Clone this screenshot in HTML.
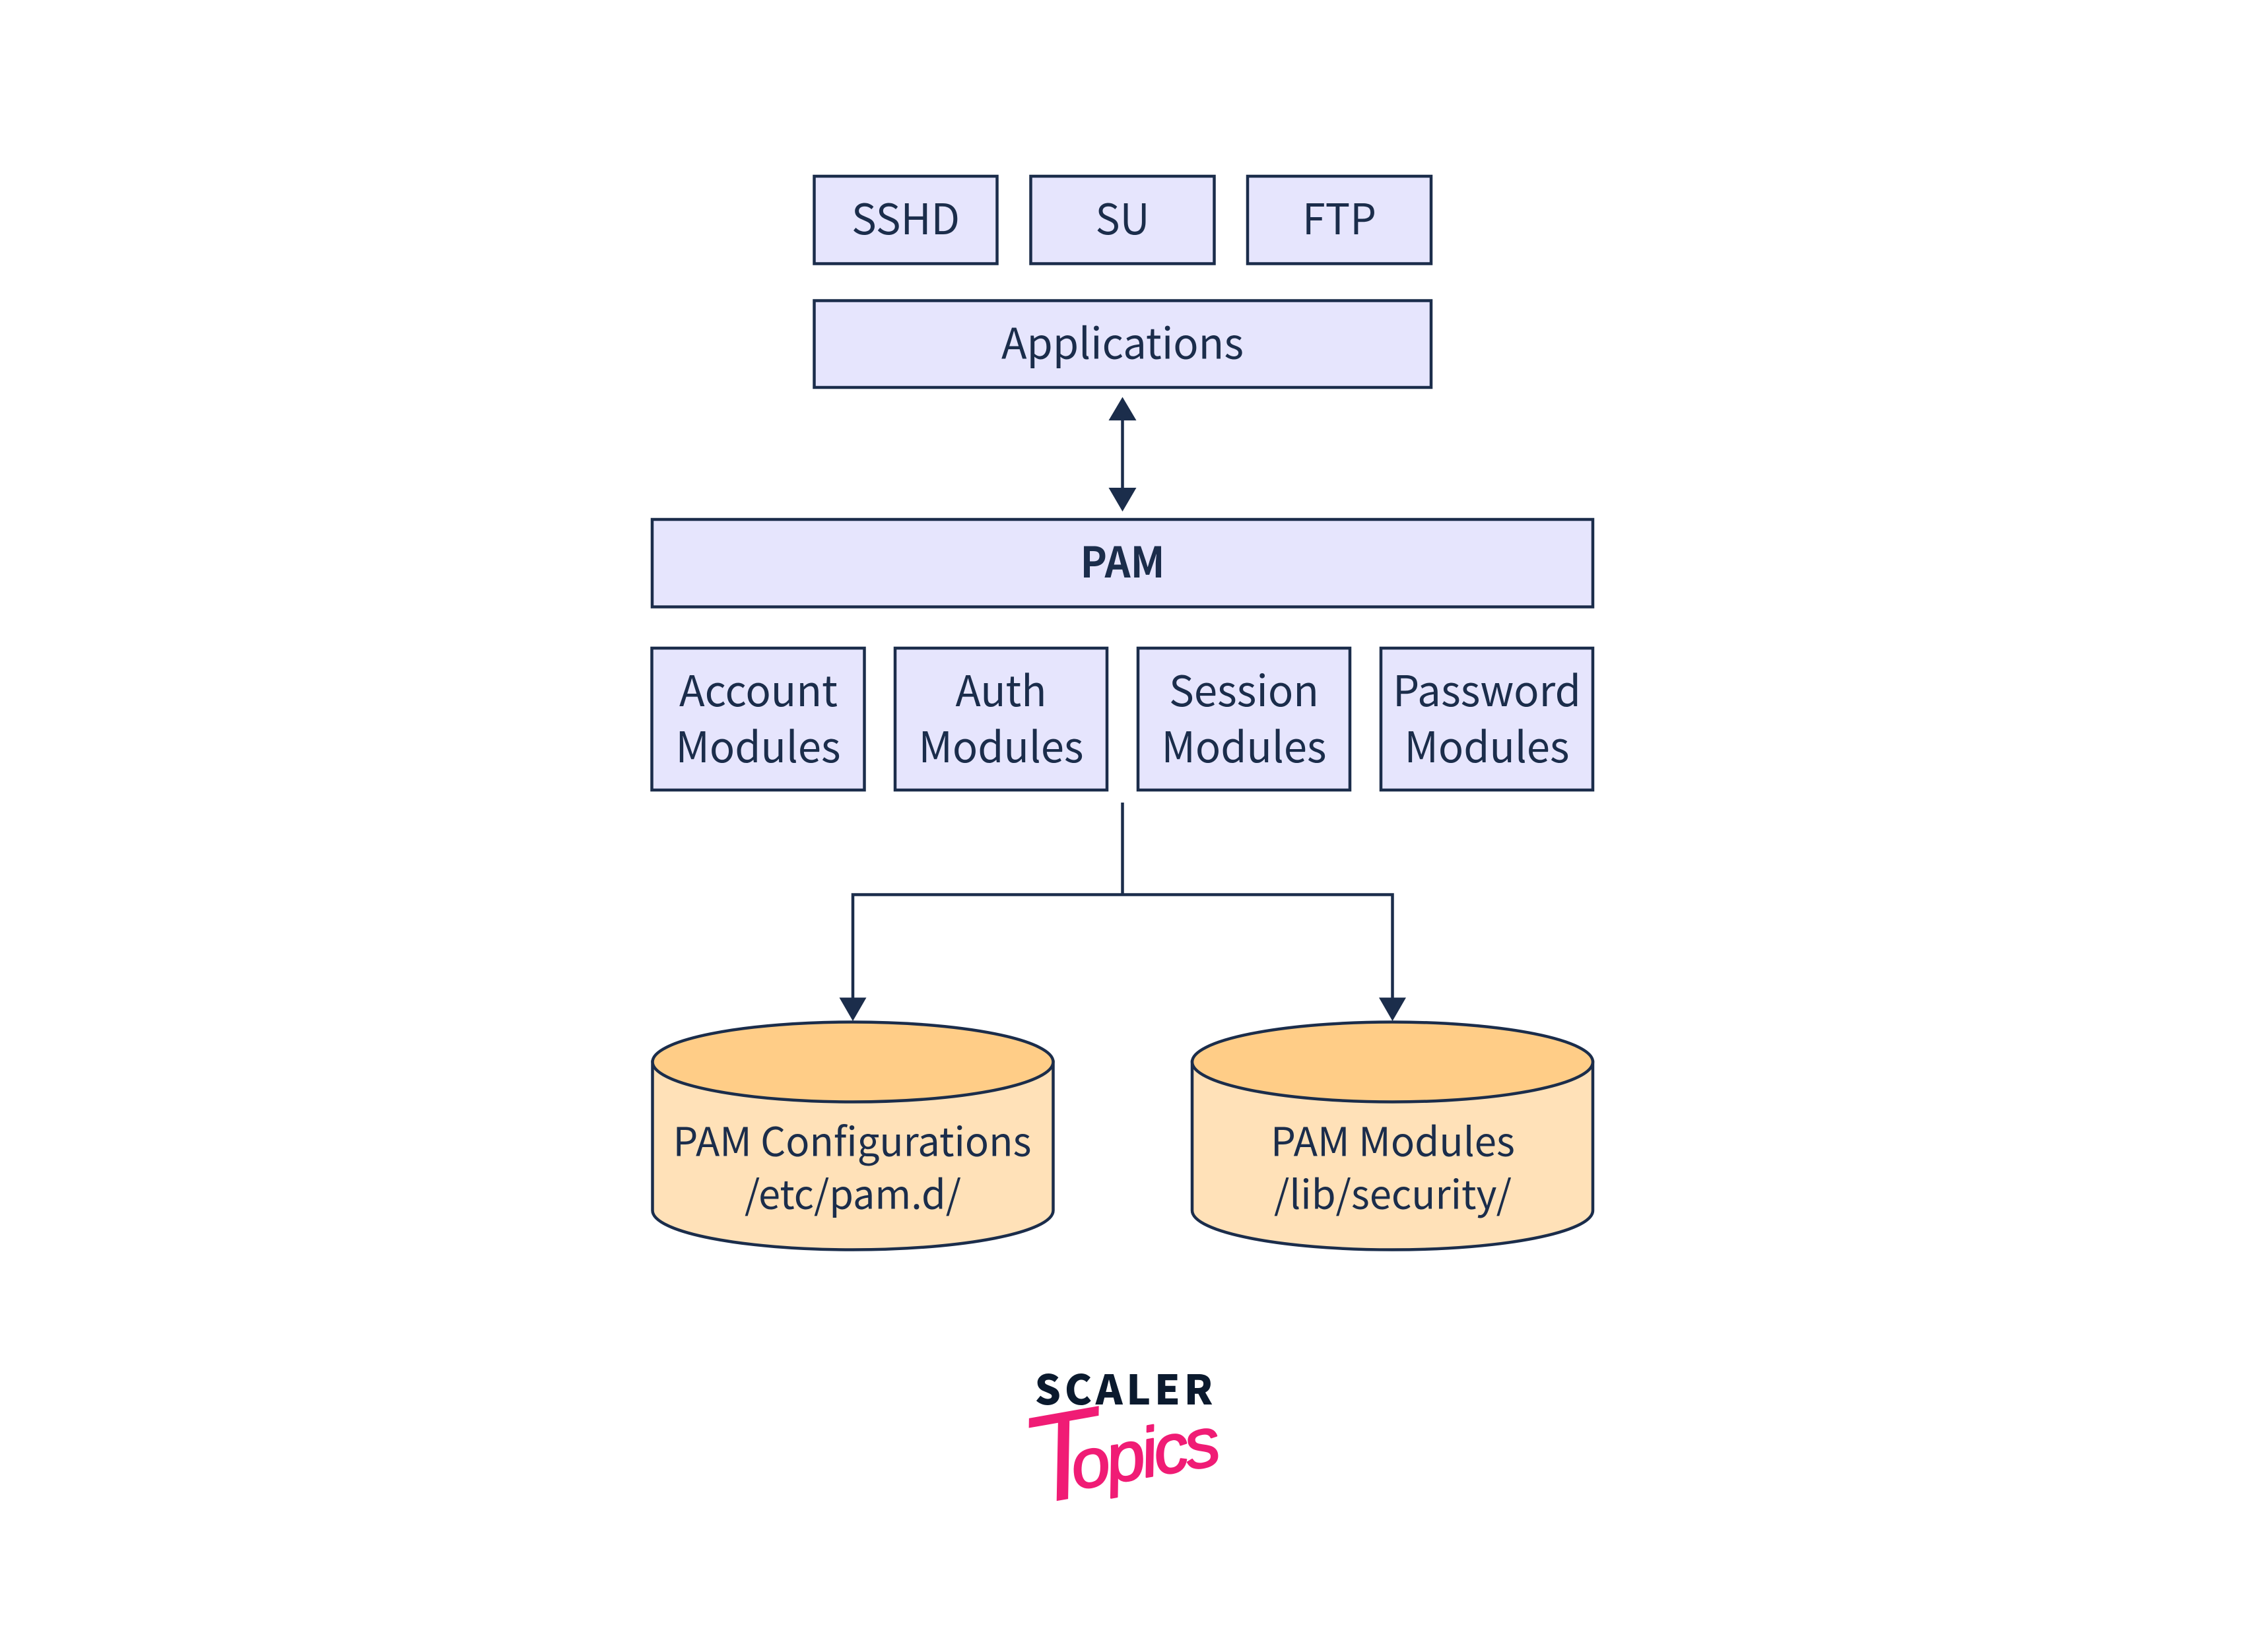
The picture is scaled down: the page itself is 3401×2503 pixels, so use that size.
<!DOCTYPE html>
<html lang="en">
<head>
<meta charset="utf-8">
<title>PAM Architecture</title>
<style>
html,body{margin:0;padding:0;background:#fff;width:3401px;height:2503px;overflow:hidden}
svg{display:block}
text{font-family:"Noto Sans CJK JP","Liberation Sans",sans-serif;fill:#1b2d4b;text-anchor:middle}
.l{font-size:64px}
.c{font-size:60px}
.b{fill:#e6e5fd;stroke:#1b2d4b;stroke-width:4.5}
.w{fill:none;stroke:#1b2d4b;stroke-width:4.5}
.a{fill:#1b2d4b}
</style>
</head>
<body>
<svg width="3401" height="2503" viewBox="0 0 3401 2503" xmlns="http://www.w3.org/2000/svg">
<rect width="3401" height="2503" fill="#fff"/>

<rect class="b" x="1233.5" y="267" width="277" height="132.5"/>
<rect class="b" x="1561.5" y="267" width="278" height="132.5"/>
<rect class="b" x="1890" y="267" width="278" height="132.5"/>
<rect class="b" x="1233.5" y="455.5" width="934.5" height="131.5"/>
<rect class="b" x="988" y="787" width="1425" height="132.5"/>
<rect class="b" x="987.5" y="982" width="322" height="215"/>
<rect class="b" x="1356" y="982" width="321" height="215"/>
<rect class="b" x="1724" y="982" width="321" height="215"/>
<rect class="b" x="2092" y="982" width="321" height="215"/>

<text class="l" x="1372" y="355" textLength="164" lengthAdjust="spacingAndGlyphs">SSHD</text>
<text class="l" x="1700.5" y="355" textLength="82" lengthAdjust="spacingAndGlyphs">SU</text>
<text class="l" x="2029" y="355" textLength="112" lengthAdjust="spacingAndGlyphs">FTP</text>
<text class="l" x="1700.5" y="543.5" textLength="367" lengthAdjust="spacingAndGlyphs">Applications</text>
<text class="l" x="1700.5" y="875" font-weight="700" textLength="128" lengthAdjust="spacingAndGlyphs">PAM</text>

<text class="l" x="1149" y="1070" textLength="240" lengthAdjust="spacingAndGlyphs">Account</text>
<text class="l" x="1148.5" y="1155" textLength="250" lengthAdjust="spacingAndGlyphs">Modules</text>
<text class="l" x="1516.5" y="1070" textLength="138" lengthAdjust="spacingAndGlyphs">Auth</text>
<text class="l" x="1516.5" y="1155" textLength="250" lengthAdjust="spacingAndGlyphs">Modules</text>
<text class="l" x="1884.5" y="1070" textLength="227" lengthAdjust="spacingAndGlyphs">Session</text>
<text class="l" x="1884.5" y="1155" textLength="250" lengthAdjust="spacingAndGlyphs">Modules</text>
<text class="l" x="2252.5" y="1070" textLength="285" lengthAdjust="spacingAndGlyphs">Password</text>
<text class="l" x="2252.5" y="1155" textLength="250" lengthAdjust="spacingAndGlyphs">Modules</text>

<!-- double arrow -->
<line class="w" x1="1700.5" y1="630" x2="1700.5" y2="745"/>
<polygon class="a" points="1700.5,601.5 1721.5,637 1679.5,637"/>
<polygon class="a" points="1700.5,775 1721.5,739 1679.5,739"/>

<!-- tree connector -->
<path class="w" d="M1700.5 1216V1355.5M1292 1515V1355.5H2109.5V1515"/>
<polygon class="a" points="1292,1547 1312.5,1511.5 1271.5,1511.5"/>
<polygon class="a" points="2109.5,1547 2130,1511.5 2089,1511.5"/>

<!-- left cylinder -->
<path d="M988.5 1609V1834C988.5 1867 1124 1893.5 1292 1893.5S1595.5 1867 1595.5 1834V1609Z" fill="#ffe1b8" stroke="#1b2d4b" stroke-width="4.5"/>
<ellipse cx="1292" cy="1609" rx="303.5" ry="60.5" fill="#ffcd87" stroke="#1b2d4b" stroke-width="4.5"/>
<text class="c" x="1291" y="1751.5" textLength="543" lengthAdjust="spacingAndGlyphs">PAM Configurations</text>
<text class="c" x="1292" y="1831.5" textLength="328" lengthAdjust="spacingAndGlyphs">/etc/pam.d/</text>

<!-- right cylinder -->
<path d="M1806 1609V1834C1806 1867 1941.5 1893.5 2109.5 1893.5S2413 1867 2413 1834V1609Z" fill="#ffe1b8" stroke="#1b2d4b" stroke-width="4.5"/>
<ellipse cx="2109.5" cy="1609" rx="303.5" ry="60.5" fill="#ffcd87" stroke="#1b2d4b" stroke-width="4.5"/>
<text class="c" x="2110" y="1751.5" textLength="370" lengthAdjust="spacingAndGlyphs">PAM Modules</text>
<text class="c" x="2110" y="1831.5" textLength="360" lengthAdjust="spacingAndGlyphs">/lib/security/</text>

<!-- logo -->
<text x="1702.5" y="2128" font-size="62" font-weight="900" style="fill:#0b1a2e" textLength="270" lengthAdjust="spacing">SCALER</text>
<text transform="translate(1562 2281) rotate(-10)" x="0" y="0" font-style="italic" style="font-family:'Liberation Sans',sans-serif;text-anchor:start;fill:#f01c75;stroke:#f01c75;stroke-linejoin:round"><tspan font-size="190" stroke-width="0">T</tspan><tspan font-size="105" dx="-46" dy="-12" letter-spacing="-4.5" stroke-width="2.5">opics</tspan></text>
</svg>
</body>
</html>
